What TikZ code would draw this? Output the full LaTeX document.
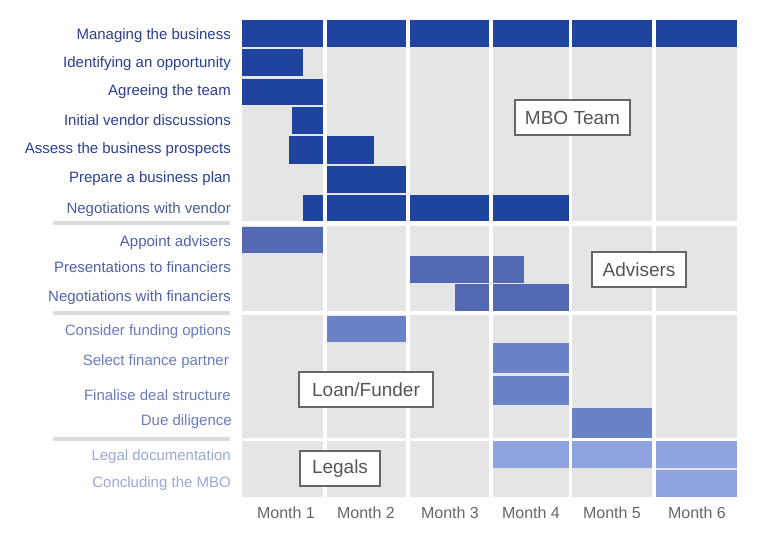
\documentclass[tikz,border=0pt]{standalone}
\usepackage{fontspec}
\setmainfont{Liberation Sans}
\definecolor{bg}{HTML}{E5E5E5}
\definecolor{mbo}{HTML}{1F449F}
\definecolor{adv}{HTML}{5369B4}
\definecolor{loan}{HTML}{6A83C6}
\definecolor{leg}{HTML}{8EA3E0}
\definecolor{tmbo}{HTML}{2A3F93}
\definecolor{tneg}{HTML}{4A5A9C}
\definecolor{tadv}{HTML}{5262A8}
\definecolor{tloan}{HTML}{6A7CC0}
\definecolor{tleg}{HTML}{9AA8D8}
\definecolor{sep}{HTML}{DCDCDC}
\definecolor{boxtxt}{HTML}{555555}
\definecolor{monthtxt}{HTML}{666666}
\tikzset{
  task/.style={anchor=east, inner sep=0pt, yshift=-1.5pt, font=\fontsize{15}{17}\selectfont},
  grpbox/.style={draw=monthtxt, line width=1.2pt, fill=white, text=boxtxt, inner sep=0pt, font=\fontsize{19}{22}\selectfont},
  monthlbl/.style={text=monthtxt, inner sep=0pt, font=\fontsize{16}{18}\selectfont},
  seprule/.style={draw=sep, line width=3.5pt}
}
\begin{document}
\begin{tikzpicture}[x=1pt,y=-1pt]
\useasboundingbox (0,0) rectangle (768,536);
% background cells
\foreach \xa/\xb in {242/323,327/406,410/489,493/569,572/652,656/737}{
  \fill[bg] (\xa,20) rectangle (\xb,221);
  \fill[bg] (\xa,226) rectangle (\xb,311);
  \fill[bg] (\xa,315) rectangle (\xb,438);
  \fill[bg] (\xa,441) rectangle (\xb,497);
}
% MBO bars
\foreach \xa/\xb in {242/323,327/406,410/489,493/569,572/652,656/737}{
  \fill[mbo] (\xa,20) rectangle (\xb,47);
}
\fill[mbo] (242,49) rectangle (303,76);
\fill[mbo] (242,79) rectangle (323,105);
\fill[mbo] (292,107) rectangle (323,134);
\fill[mbo] (289,136) rectangle (323,164);
\fill[mbo] (327,136) rectangle (374,164);
\fill[mbo] (327,166) rectangle (406,193);
\foreach \xa/\xb in {303/323,327/406,410/489,493/569}{
  \fill[mbo] (\xa,195) rectangle (\xb,221);
}
% Advisers bars
\fill[adv] (242,227) rectangle (323,253);
\fill[adv] (410,256) rectangle (489,283);
\fill[adv] (493,256) rectangle (524,283);
\fill[adv] (455,284) rectangle (489,311);
\fill[adv] (493,284) rectangle (569,311);
% Loan bars
\fill[loan] (327,316) rectangle (406,342);
\fill[loan] (493,343) rectangle (569,373);
\fill[loan] (493,376) rectangle (569,405);
\fill[loan] (572,408) rectangle (652,438);
% Legal bars
\fill[leg] (493,441) rectangle (569,468);
\fill[leg] (572,441) rectangle (652,468);
\fill[leg] (656,441) rectangle (737,468);
\fill[leg] (656,470) rectangle (737,497);
% separators
\draw[seprule] (53,223) -- (230,223);
\draw[seprule] (53,313) -- (230,313);
\draw[seprule] (53,439) -- (230,439);
% task labels
\node[task, text=tmbo] (t1) at (231,34) {Managing the business};
\node[task, text=tmbo] (t2) at (231,62) {Identifying an opportunity};
\node[task, text=tmbo] (t3) at (231,90) {Agreeing the team};
\node[task, text=tmbo] (t4) at (231,119) {Initial vendor discussions};
\node[task, text=tmbo] (t5) at (231,148) {Assess the business prospects};
\node[task, text=tmbo] (t6) at (231,177) {Prepare a business plan};
\node[task, text=tneg] (t7) at (231,208) {Negotiations with vendor};
\node[task, text=tadv] (t8) at (231,241) {Appoint advisers};
\node[task, text=tadv] (t9) at (231,266) {Presentations to financiers};
\node[task, text=tadv] (t10) at (231,296) {Negotiations with financiers};
\node[task, text=tloan] (t11) at (231,330) {Consider funding options};
\node[task, text=tloan] (t12) at (229,360) {Select finance partner};
\node[task, text=tloan] (t13) at (231,394) {Finalise deal structure};
\node[task, text=tloan] (t14) at (232,420) {Due diligence};
\node[task, text=tleg] (t15) at (231,455) {Legal documentation};
\node[task, text=tleg] (t16) at (231,482) {Concluding the MBO};
% group boxes
\node[grpbox, minimum width=115pt, minimum height=35pt] (gmbo) at (572.5,117.5) {MBO Team};
\node[grpbox, minimum width=94pt, minimum height=35pt] (gadv) at (639,269.5) {Advisers};
\node[grpbox, minimum width=134pt, minimum height=35pt] (gloan) at (366,389.5) {Loan/Funder};
\node[grpbox, minimum width=80pt, minimum height=35pt] (gleg) at (340,468.5) {Legals};
% month labels
\node[monthlbl] (m1) at (286,513) {Month 1};
\node[monthlbl] (m2) at (366,513) {Month 2};
\node[monthlbl] (m3) at (450,513) {Month 3};
\node[monthlbl] (m4) at (531,513) {Month 4};
\node[monthlbl] (m5) at (612,513) {Month 5};
\node[monthlbl] (m6) at (697,513) {Month 6};
\end{tikzpicture}
\end{document}
